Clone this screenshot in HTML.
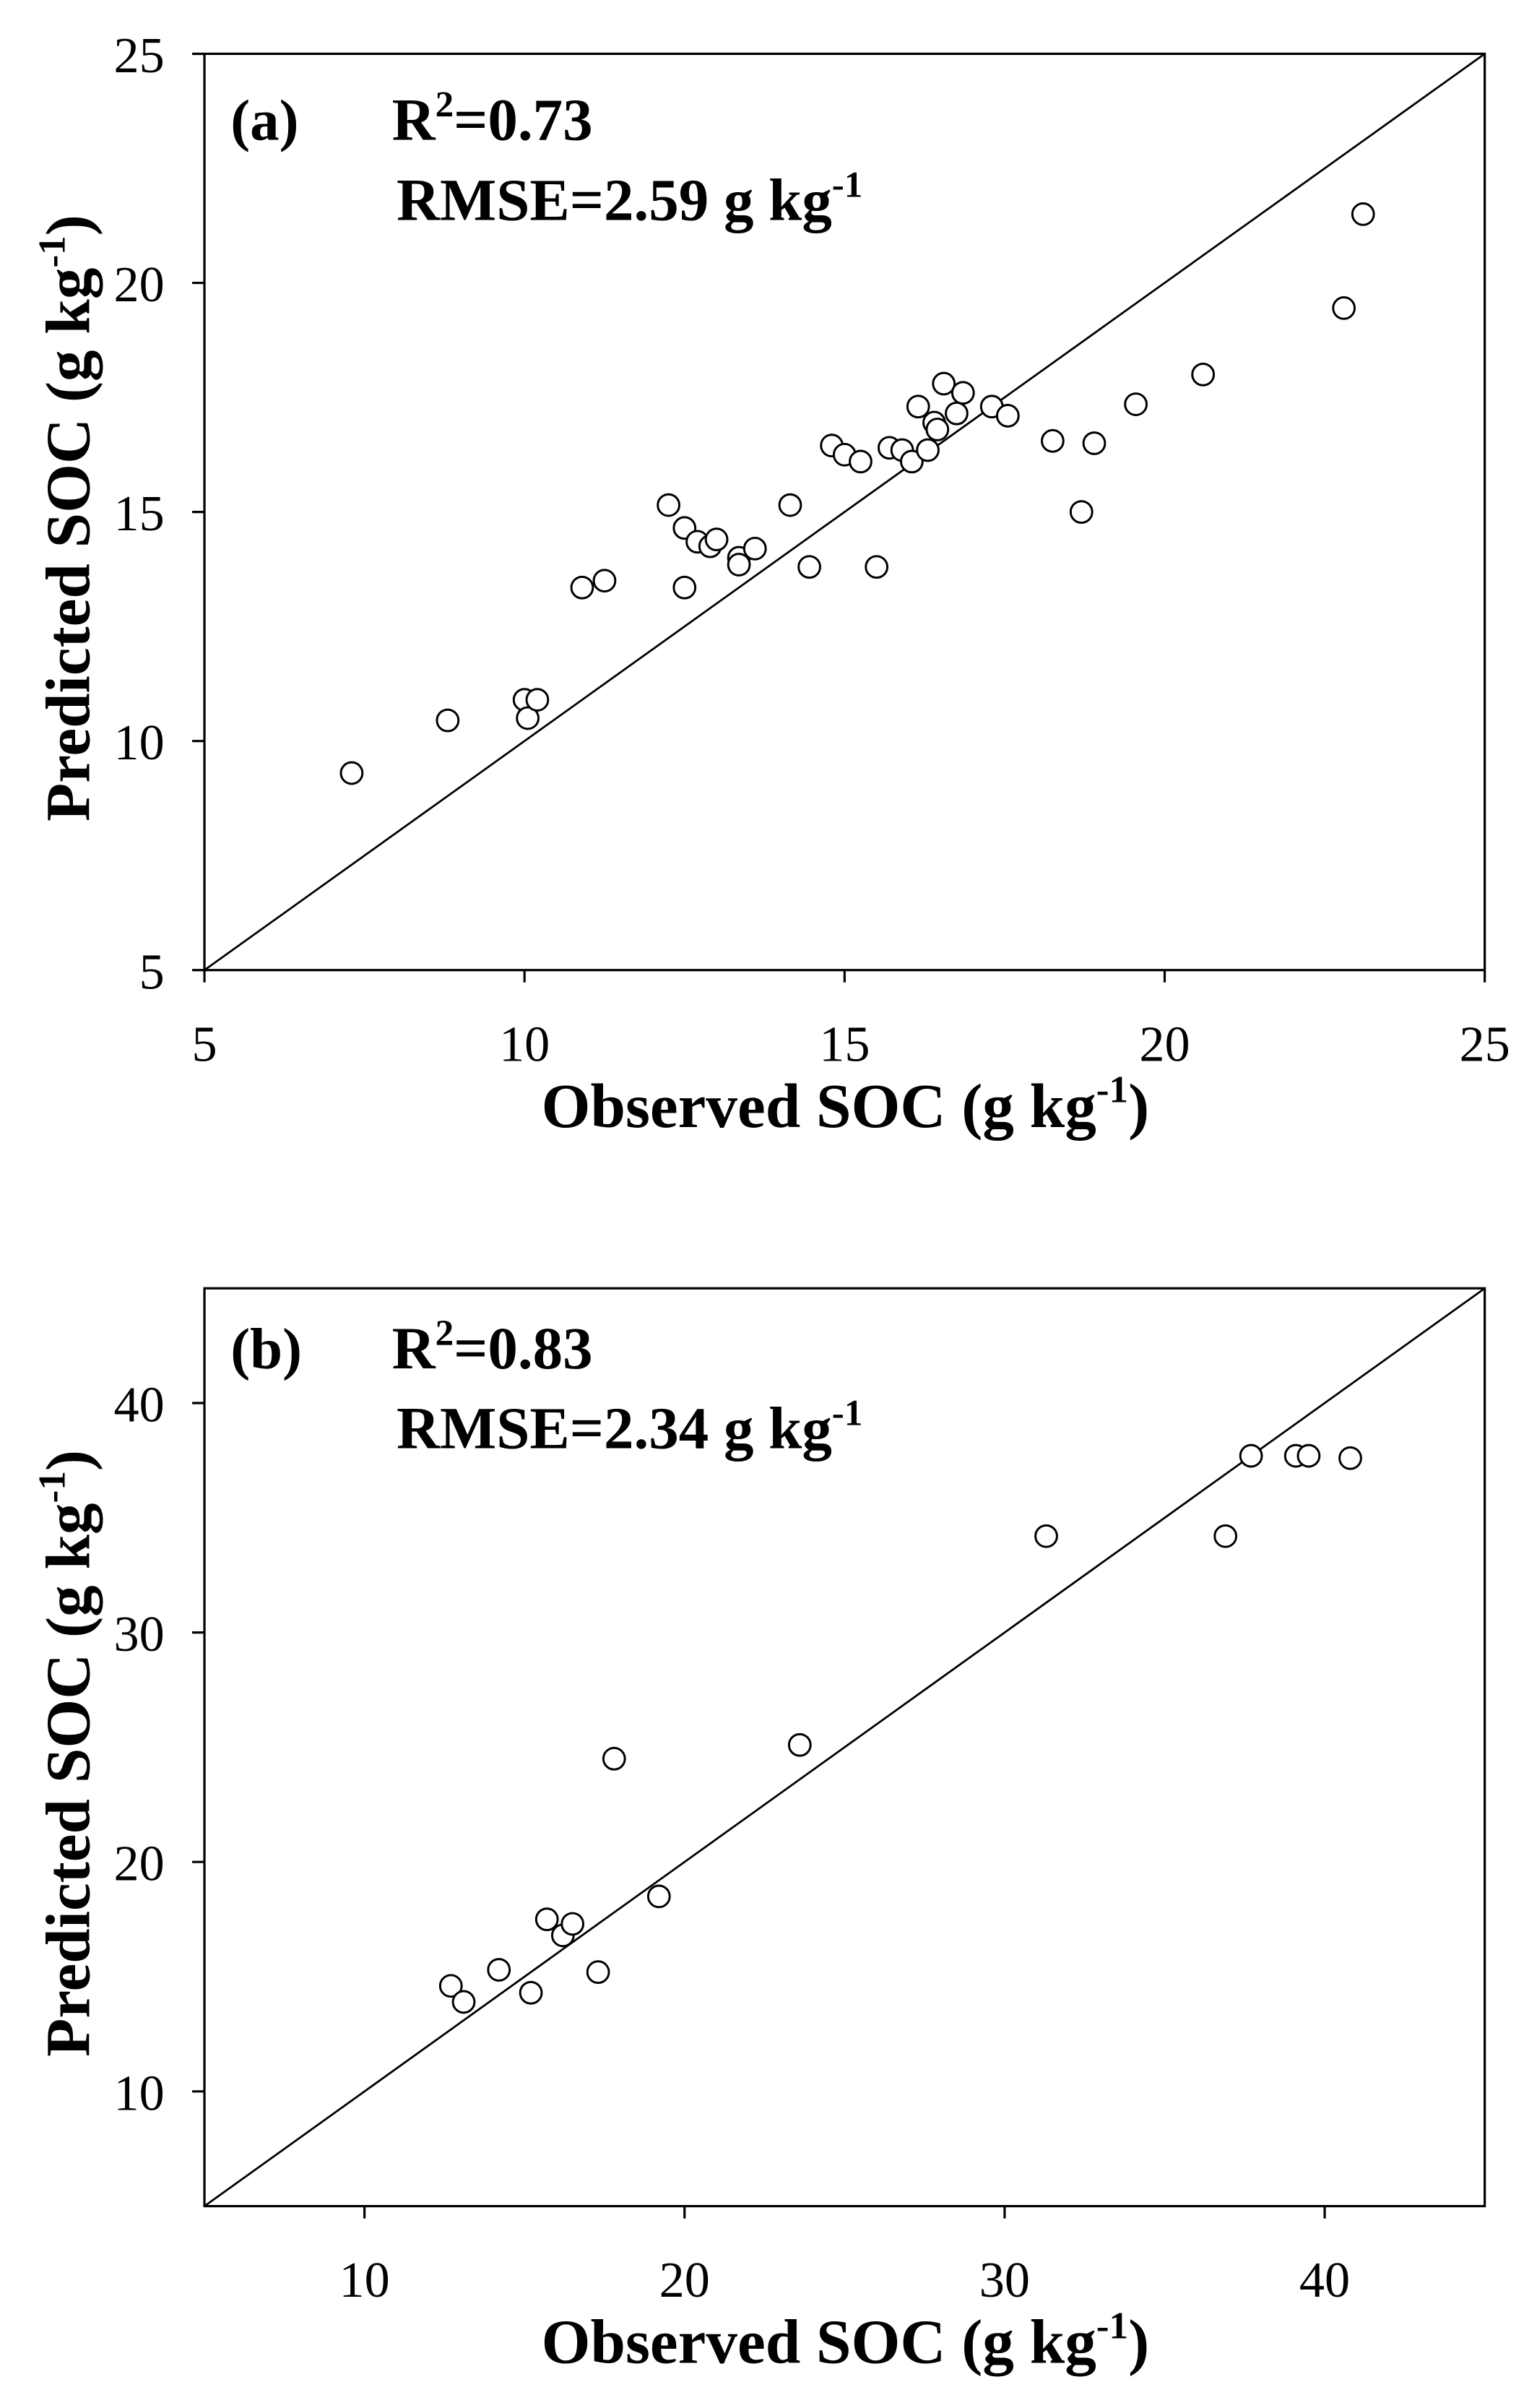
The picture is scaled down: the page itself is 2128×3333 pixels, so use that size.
<!DOCTYPE html>
<html><head><meta charset="utf-8"><style>
html,body{margin:0;padding:0;background:#fff}
svg{display:block}
text{font-family:"Liberation Serif",serif;fill:#000}
</style></head><body>
<svg id="chart" width="2128" height="3333" viewBox="0 0 1000 1566.3" xmlns="http://www.w3.org/2000/svg"></svg>
<script>
const obsA=[7.3,8.8,10.0,10.05,10.2,10.9,11.25,12.25,12.5,12.5,12.7,12.9,13.0,13.35,13.35,13.6,14.15,14.45,14.8,15.0,15.25,15.5,15.7,15.9,16.05,16.15,16.3,16.4,16.45,16.55,16.75,16.85,17.3,17.55,18.25,18.7,18.9,19.55,20.6,22.8,23.1];
const predA=[9.3,10.45,10.9,10.5,10.9,13.35,13.5,15.15,14.65,13.35,14.35,14.25,14.4,14.0,13.85,14.2,15.15,13.8,16.45,16.25,16.1,13.8,16.4,16.35,16.1,17.3,16.35,16.95,16.8,17.8,17.15,17.6,17.3,17.1,16.55,15.0,16.5,17.35,18.0,19.45,21.5];
const obsB=[12.7,13.1,14.2,15.2,15.7,16.2,16.5,17.3,17.8,19.2,23.6,31.3,36.9,37.7,39.1,39.5,40.8];
const predB=[14.6,13.9,15.3,14.3,17.5,16.8,17.3,15.2,24.5,18.5,25.1,34.2,34.2,37.7,37.7,37.7,37.6];
const ticksA=[5,10,15,20,25];
const ticksBx=[10,20,30,40];
const ticksBy=[10,20,30,40];
const NS="http://www.w3.org/2000/svg";
const svg=document.getElementById('chart');
function mk(tag,attrs,parent,txt){const e=document.createElementNS(NS,tag);for(const k in attrs)e.setAttribute(k,attrs[k]);if(txt!==undefined)e.textContent=txt;(parent||svg).appendChild(e);return e;}
function panel(id,top,bottom,min,max,xt,yt,obs,pred,label,r2,rmse,annDy){
  const L=133,R=966;
  const g=mk('g',{});
  
  
  const sx=v=>L+(v-min)/(max-min)*(R-L);
  const sy=v=>bottom-(v-min)/(max-min)*(bottom-top);
  const frame=mk('rect',{x:L,y:top,width:R-L,height:bottom-top,fill:'none',stroke:'#000','stroke-width':1.5},g);
  
  
  const line=mk('line',{x1:sx(min),y1:sy(min),x2:sx(max),y2:sy(max),stroke:'#000','stroke-width':1.3},g);
  
  
  xt.forEach(v=>{
    mk('line',{x1:sx(v),y1:bottom,x2:sx(v),y2:bottom+8,stroke:'#000','stroke-width':1.5},g);
    const t=mk('text',{x:sx(v),y:bottom+59,'font-size':33,'text-anchor':'middle'},g,v);
    
    
  });
  yt.forEach(v=>{
    mk('line',{x1:L-8,y1:sy(v),x2:L,y2:sy(v),stroke:'#000','stroke-width':1.5},g);
    const t=mk('text',{x:L-26,y:sy(v)+12,'font-size':33,'text-anchor':'end'},g,v);
    
    
  });
  obs.forEach((o,i)=>{
    const c=mk('circle',{cx:sx(o),cy:sy(pred[i]),r:7,fill:'#fff',stroke:'#000','stroke-width':1.4},g);
    
    
  });
  const lb=mk('text',{x:L+17,y:top+55+annDy,'font-size':38,'font-weight':'bold'},g,label);
  
  
  const a1=mk('text',{x:L+122,y:top+55+annDy,'font-size':39,'font-weight':'bold'},g);
  
  
  a1.innerHTML='R<tspan dy="-15" font-size="24">2</tspan><tspan dy="15">='+r2+'</tspan>';
  const a2=mk('text',{x:L+125,y:top+107+annDy,'font-size':39,'font-weight':'bold'},g);
  
  
  a2.innerHTML='RMSE='+rmse+' g kg<tspan dy="-15" font-size="24">-1</tspan>';
  const xa=mk('text',{x:550,y:bottom+102,'font-size':41,'font-weight':'bold','text-anchor':'middle'},g);
  
  
  xa.innerHTML='Observed SOC (g kg<tspan dy="-16" font-size="25">-1</tspan><tspan dy="16">)</tspan>';
  const cy=(top+bottom)/2+4;
  const ya=mk('text',{x:0,y:0,'font-size':41,'font-weight':'bold','text-anchor':'middle',transform:'translate(58,'+cy+') rotate(-90)'},g);
  
  
  ya.innerHTML='Predicted SOC (g kg<tspan dy="-16" font-size="25">-1</tspan><tspan dy="16">)</tspan>';
}
panel('a',35,631,5,25,ticksA,ticksA,obsA,predA,'(a)','0.73','2.59',1);
panel('b',838,1435,5,45,ticksBx,ticksBy,obsB,predB,'(b)','0.83','2.34',-3);
</script>
</body></html>
